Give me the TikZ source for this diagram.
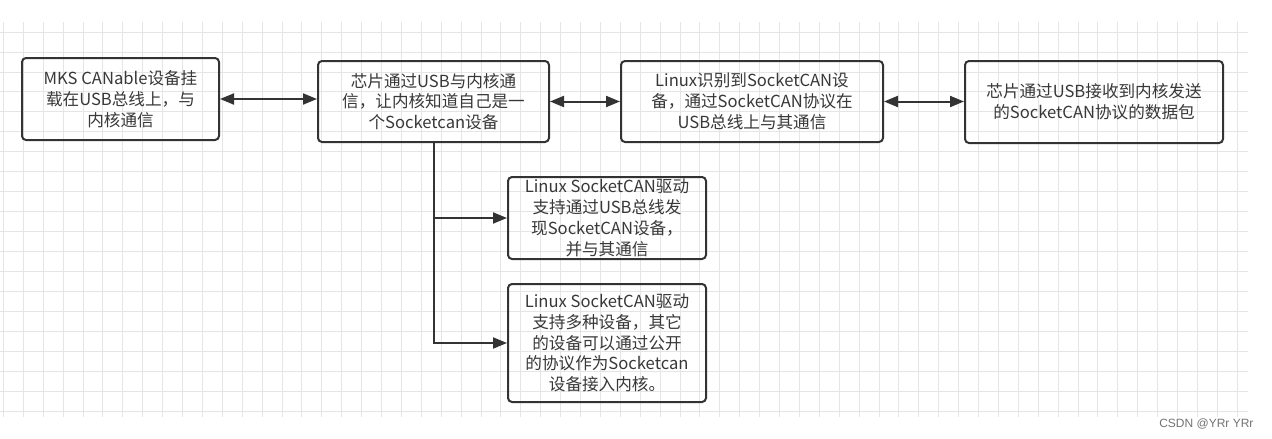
\documentclass[tikz,border=0pt]{standalone}
\usepackage{fontspec}
\setmainfont{Noto Sans CJK SC}
\newfontfamily\markfont{Liberation Sans}
\usetikzlibrary{arrows.meta}
\tikzset{>={Triangle[length=14pt,width=11pt]}}
\tikzset{
  gridline/.style={draw=black!10,line width=0.8pt},
  flowbox/.style={draw=black!80,line width=2pt,rounded corners=4pt,
    text=black!78,align=center,inner sep=0pt,font=\fontsize{16.6pt}{20.8pt}\selectfont},
  link/.style={draw=black!80,line width=2pt}
}

\begin{document}
\begin{tikzpicture}[x=1pt,y=-1pt]
\useasboundingbox[fill=white] (0,0) rectangle (1272,439);
% background grid
\foreach \k in {0,...,62}
  \draw[gridline] ({3.3+19.9*\k},22) -- ({3.3+19.9*\k},417);
\foreach \k in {0,...,19}
  \draw[gridline] (0,{32+19.95*\k}) -- (1248,{32+19.95*\k});

\node[flowbox,minimum width=197pt,minimum height=82pt] (mks) at (120.5,99)
  {MKS CANable设备挂\\载在USB总线上，与\\内核通信};
\node[flowbox,minimum width=231pt,minimum height=81pt] (chip) at (433.5,101.5)
  {芯片通过USB与内核通\\信，让内核知道自己是一\\个Socketcan设备};
\node[flowbox,minimum width=262pt,minimum height=81pt] (linux) at (752,101.5)
  {Linux识别到SocketCAN设\\备，通过SocketCAN协议在\\USB总线上与其通信};
\node[flowbox,minimum width=258pt,minimum height=82pt] (recv) at (1094,102)
  {芯片通过USB接收到内核发送\\的SocketCAN协议的数据包};
\node[flowbox,minimum width=198pt,minimum height=82pt] (drv) at (607,218)
  {Linux SocketCAN驱动\\支持通过USB总线发\\现SocketCAN设备，\\并与其通信};
\node[flowbox,minimum width=198pt,minimum height=118pt] (multi) at (607,343)
  {Linux SocketCAN驱动\\支持多种设备，其它\\的设备可以通过公开\\的协议作为Socketcan\\设备接入内核。};

\draw[link,<->] (mks.east) -- (mks.east -| chip.west);
\draw[link,<->] (chip.east) -- (chip.east -| linux.west);
\draw[link,<->] (linux.east) -- (linux.east -| recv.west);
\draw[link,->] (chip.south) |- (multi.west);
\draw[link,->] (chip.south |- drv.west) -- (drv.west);

\node[anchor=east,text=black!55,font=\markfont\fontsize{12pt}{14pt}\selectfont] (mark) at (1257,424) {CSDN @YRr YRr};
\end{tikzpicture}
\end{document}
